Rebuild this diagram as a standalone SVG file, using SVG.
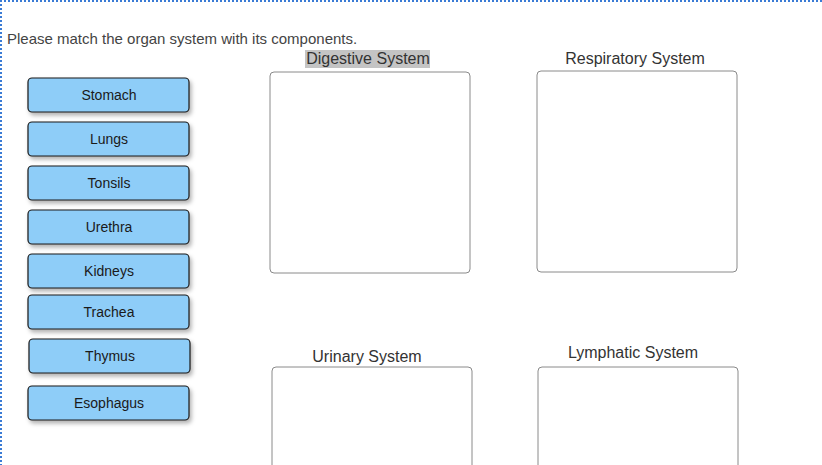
<svg xmlns="http://www.w3.org/2000/svg" width="822" height="465" viewBox="0 0 822 465">
<style>
text{font-family:"Liberation Sans",Arial,sans-serif}
.b rect{fill:#8ecdf8;stroke:#1a1a1a;stroke-width:1.2}
.b text{font-size:14px;fill:#1a1a1a;text-anchor:middle}
.box{fill:#fff;stroke:#8a8a8a;stroke-width:1}
.lbl{font-size:16px;fill:#333;text-anchor:middle}
</style>
<defs><filter id="sh" x="-10%" y="-20%" width="130%" height="160%"><feDropShadow dx="2" dy="3" stdDeviation="2" flood-color="#000" flood-opacity="0.3"/></filter></defs>
<rect width="822" height="465" fill="#fff"/>
<line x1="0" y1="1" x2="822" y2="1" stroke="#3a7bd5" stroke-width="2" stroke-dasharray="2,2"/>
<line x1="1" y1="0" x2="1" y2="465" stroke="#3a7bd5" stroke-width="2" stroke-dasharray="2,2"/>
<text x="7" y="44" font-size="15" fill="#444">Please match the organ system with its components.</text>
<g id="digestive"><rect x="305" y="50" width="125" height="18" fill="#c4c4c4"/><text class="lbl" x="368" y="64">Digestive System</text><rect class="box" x="270" y="72" width="200" height="201" rx="4"/></g>
<g id="respiratory"><text class="lbl" x="635" y="64">Respiratory System</text><rect class="box" x="537" y="71" width="200" height="201" rx="4"/></g>
<g id="urinary"><text class="lbl" x="367" y="362">Urinary System</text><rect class="box" x="272" y="367" width="200" height="110" rx="4"/></g>
<g id="lymphatic"><text class="lbl" x="633" y="358">Lymphatic System</text><rect class="box" x="538" y="367" width="200" height="110" rx="4"/></g>
<g id="stomach" class="b"><rect x="28" y="78" width="161" height="34" rx="4" filter="url(#sh)"/><text x="109" y="100">Stomach</text></g>
<g id="lungs" class="b"><rect x="28" y="122" width="161" height="34" rx="4" filter="url(#sh)"/><text x="109" y="144">Lungs</text></g>
<g id="tonsils" class="b"><rect x="28" y="166" width="161" height="34" rx="4" filter="url(#sh)"/><text x="109" y="188">Tonsils</text></g>
<g id="urethra" class="b"><rect x="28" y="210" width="161" height="34" rx="4" filter="url(#sh)"/><text x="109" y="232">Urethra</text></g>
<g id="kidneys" class="b"><rect x="28" y="254" width="161" height="34" rx="4" filter="url(#sh)"/><text x="109" y="276">Kidneys</text></g>
<g id="trachea" class="b"><rect x="28" y="295" width="161" height="34" rx="4" filter="url(#sh)"/><text x="109" y="317">Trachea</text></g>
<g id="thymus" class="b"><rect x="29" y="339" width="161" height="34" rx="4" filter="url(#sh)"/><text x="110" y="361">Thymus</text></g>
<g id="esophagus" class="b"><rect x="28" y="386" width="161" height="34" rx="4" filter="url(#sh)"/><text x="109" y="408">Esophagus</text></g>
<g id="connectors"/>
</svg>
